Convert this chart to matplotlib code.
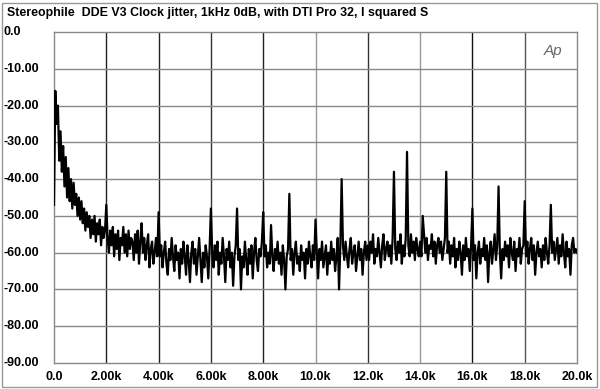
import matplotlib
matplotlib.use("Agg")
import matplotlib.pyplot as plt
import numpy as np

plt.rcParams['font.family'] = ['Liberation Sans', 'DejaVu Sans']

title = "Stereophile  DDE V3 Clock jitter, 1kHz 0dB, with DTI Pro 32, I squared S"

# level in dB, one row per kHz, read every 50 Hz from the picture
level_rows = [
    [-47, -16, -25, -20, -35, -27, -38, -31, -42, -34, -45, -37, -46, -40, -48, -41, -47, -44, -50, -45],
    [-51, -46, -52, -48, -54, -49, -53, -50, -56, -51, -55, -50, -57, -52, -55, -51, -58, -53, -56, -54],
    [-47, -56, -60, -54, -58, -53, -61, -55, -59, -54, -62, -56, -58, -53, -60, -55, -61, -54, -59, -56],
    [-57, -62, -55, -60, -54, -63, -57, -52, -60, -56, -62, -58, -55, -64, -59, -57, -63, -60, -56, -61],
    [-49, -61, -58, -64, -60, -57, -63, -66, -59, -62, -56, -61, -65, -58, -62, -60, -67, -59, -63, -57],
    [-61, -66, -58, -62, -68, -60, -57, -63, -59, -66, -61, -56, -62, -68, -60, -64, -58, -61, -67, -59],
    [-48, -60, -64, -58, -62, -57, -66, -60, -63, -56, -61, -68, -59, -62, -57, -64, -60, -69, -61, -58],
    [-48, -62, -59, -70, -61, -64, -57, -62, -66, -59, -63, -58, -67, -60, -56, -62, -65, -59, -61, -57],
    [-49, -61, -58, -64, -60, -63, -52.5, -61, -65, -59, -62, -57, -63, -60, -66, -58, -62, -70, -61, -59],
    [-44, -62, -59, -66, -60, -57, -63, -61, -65, -58, -62, -60, -67, -59, -63, -57, -61, -64, -58, -62],
    [-51, -60, -67, -59, -62, -57, -64, -61, -58, -66, -60, -63, -57, -62, -59, -65, -61, -56, -70, -58],
    [-40, -58, -62, -57, -61, -64, -59, -56, -63, -60, -58, -65, -61, -57, -62, -59, -66, -60, -57, -62],
    [-58, -62, -57, -60, -55, -63, -59, -61, -56, -60, -64, -58, -55, -62, -59, -57, -61, -58, -63, -56],
    [-38, -59, -62, -57, -60, -55, -63, -58, -61, -56, -32.6, -58, -61, -55, -60, -57, -62, -56, -59, -61],
    [-57, -61, -50, -55, -60, -56, -62, -58, -59, -55, -61, -57, -63, -58, -56, -60, -57, -62, -59, -56],
    [-38, -60, -57, -63, -58, -61, -56, -64, -59, -62, -57, -60, -66, -58, -62, -56, -61, -59, -65, -58],
    [-48, -62, -58, -67, -60, -57, -63, -59, -61, -56, -62, -58, -68, -60, -57, -63, -59, -55, -62, -58],
    [-42, -60, -67, -59, -62, -57, -61, -58, -64, -56, -60, -62, -57, -65, -59, -61, -56, -63, -59, -58],
    [-46, -61, -57, -63, -59, -56, -62, -58, -66, -60, -57, -61, -59, -64, -58, -62, -56, -60, -63, -58],
    [-47, -60, -57, -62, -59, -56, -63, -58, -61, -55, -60, -64, -57, -61, -59, -66, -58, -56, -60, -59],
]
level_end = -60  # value at 20 kHz

level = [v for row in level_rows for v in row] + [level_end]
freq = np.arange(len(level)) * 50.0

xticks = [0, 2000, 4000, 6000, 8000, 10000, 12000, 14000, 16000, 18000, 20000]
xlabels = ["0.0", "2.00k", "4.00k", "6.00k", "8.00k", "10.0k", "12.0k", "14.0k", "16.0k", "18.0k", "20.0k"]
yticks = [0, -10, -20, -30, -40, -50, -60, -70, -80, -90]
ylabels = ["0.0", "-10.00", "-20.00", "-30.00", "-40.00", "-50.00", "-60.00", "-70.00", "-80.00", "-90.00"]
vgrid_col = ['#222222', '#222222', '#333333', '#222222', '#999999', '#333333', '#999999', '#111111', '#555555']

fig = plt.figure(figsize=(6.0, 3.89), dpi=100)
ax = fig.add_axes([54 / 600, 1 - 363 / 389, 523 / 600, 331 / 389])

for x, c in zip(xticks[1:-1], vgrid_col):
    ax.axvline(x, color=c, lw=1.0, zorder=1)
for y in yticks[1:-1]:
    ax.axhline(y, color='#888888', lw=1.0, zorder=1)

ax.plot(freq, level, color='black', lw=1.6, zorder=3)

ax.set_xlim(0, 20000)
ax.set_ylim(-90, 0)
ax.set_xticks(xticks)
ax.set_xticklabels(xlabels)
ax.set_yticks(yticks)
ax.set_yticklabels([])
ax.tick_params(length=0, labelsize=9, pad=6)
for t in ax.get_xticklabels():
    t.set_fontweight('bold')
for y, lab in zip(yticks, ylabels):
    fig.text(4 / 600, 1 - (32 + (-y) * 331 / 90) / 389, lab, fontsize=9,
             fontweight='bold', ha='left', va='center')
for s in ax.spines.values():
    s.set_color('#888888')
    s.set_linewidth(1.0)

ax.text(0.972, 0.965, "Ap", transform=ax.transAxes, ha='right', va='top',
        fontsize=11, style='italic', color='#666666', fontweight='light')

fig.text(7 / 600, 1 - 13 / 389, title, fontsize=8.9, fontweight='bold',
         ha='left', va='center')

fig.patches.append(plt.Rectangle((2 / 600, 2 / 389), 595 / 600, 384 / 389,
                                 transform=fig.transFigure, fill=False,
                                 edgecolor='#999999', lw=1.0))

fig.savefig("out.png", dpi=100)
